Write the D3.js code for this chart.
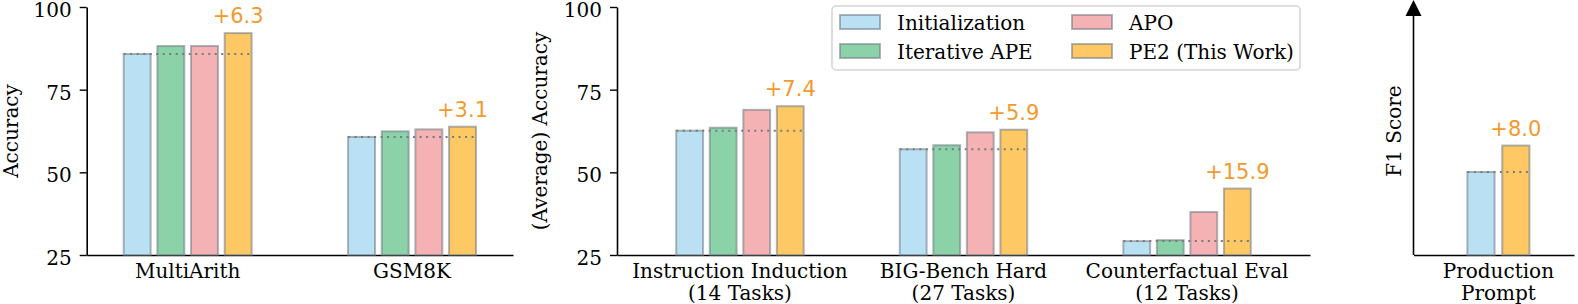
<!DOCTYPE html>
<html>
<head>
<meta charset="utf-8">
<script src="https://cdn.jsdelivr.net/npm/d3@7"></script>
<style>
  body { margin: 0; background: #fff; }
  svg { display: block; }
  text { font-family: "DejaVu Serif", serif; fill: #000; }
  .gain { font-family: "DejaVu Sans", sans-serif; fill: #f29a2e; }
</style>
</head>
<body>
<svg id="chart" width="1578" height="304"></svg>
<script>
// methods (legend order)
var methods = ["Initialization", "Iterative APE", "APO", "PE2 (This Work)"];
var colors = ["#b9e1f3", "#8bd2a8", "#f5b2b5", "#fec864"];

// panel 1: arithmetic reasoning
var mathTasks = [["MultiArith"], ["GSM8K"]];
var mathInit = [85.8, 60.7];
var mathApe = [88.2, 62.4];
var mathApo = [88.2, 63.0];
var mathPe2 = [92.1, 63.8];
var mathGain = ["+6.3", "+3.1"];

// panel 2: instruction benchmarks
var benchTasks = [["Instruction Induction", "(14 Tasks)"], ["BIG-Bench Hard", "(27 Tasks)"], ["Counterfactual Eval", "(12 Tasks)"]];
var benchInit = [62.6, 57.0, 29.2];
var benchApe = [63.5, 58.2, 29.5];
var benchApo = [68.9, 62.1, 38.0];
var benchPe2 = [70.0, 62.9, 45.1];
var benchGain = ["+7.4", "+5.9", "+15.9"];

// panel 3: production prompt (F1, only init and PE2)
var prodTasks = [["Production", "Prompt"]];
var prodInit = [50.1];
var prodPe2 = [58.1];
var prodGain = ["+8.0"];

var yTicks = [25, 50, 75, 100];

var svg = d3.select("#chart");

var y = d3.scaleLinear().domain([25, 100]).range([255, 7]);

function buildRows(tasks, series, idx) {
  return tasks.map(function (t, i) {
    return {
      pos: i,
      label: t,
      values: series.map(function (s, k) { return { m: idx[k], v: s[i] }; })
    };
  });
}

function panel(opts) {
  var x = d3.scaleLinear().domain(opts.xdomain).range(opts.xrange);
  var g = svg.append("g");
  var n = opts.rows[0].values.length;

  // x axis spine
  g.append("g")
    .attr("transform", "translate(0," + y(25) + ")")
    .call(d3.axisBottom(x).tickValues([]).tickSizeOuter(0))
    .call(function (a) { a.select(".domain").attr("stroke", "#000").attr("stroke-width", 1.6); });

  if (opts.yticks) {
    var ya = g.append("g")
      .attr("transform", "translate(" + x.range()[0] + ",0)")
      .call(d3.axisLeft(y).tickValues(yTicks).tickSize(7).tickPadding(8).tickSizeOuter(0));
    ya.select(".domain").attr("stroke", "#000").attr("stroke-width", 1.6);
    ya.selectAll(".tick line").attr("stroke", "#000").attr("stroke-width", 1.4);
    ya.selectAll(".tick text")
      .style("font-family", "DejaVu Serif")
      .style("font-size", "20px")
      .attr("fill", "#000")
      .attr("dy", "0.48em");
  } else {
    // arrow-style y axis
    var x0 = x.range()[0];
    g.append("line")
      .attr("x1", x0).attr("x2", x0)
      .attr("y1", y(25)).attr("y2", 12)
      .attr("stroke", "#000").attr("stroke-width", 1.6);
    g.append("path")
      .attr("d", "M" + x0 + ",0L" + (x0 + 8) + ",16L" + (x0 - 8) + ",16Z")
      .attr("fill", "#000");
  }

  // y label
  g.append("text")
    .attr("transform", "translate(" + opts.ylabelX + "," + 131 + ") rotate(-90)")
    .attr("text-anchor", "middle")
    .attr("dy", "0.36em")
    .style("font-size", "20px")
    .text(opts.ylabel);

  var bx = function (d, k) {
    return x(d.pos + (k - (n - 1) / 2) * opts.step);
  };
  var half = (x(opts.width) - x(0)) / 2;

  var groups = g.selectAll(".grp").data(opts.rows).enter().append("g").attr("class", "grp");

  groups.selectAll("rect")
    .data(function (d) { return d.values.map(function (v, k) { return { pos: d.pos, k: k, m: v.m, v: v.v }; }); })
    .enter().append("rect")
    .attr("x", function (d) { return bx(d, d.k) - half; })
    .attr("width", half * 2)
    .attr("y", function (d) { return y(d.v); })
    .attr("height", function (d) { return y(25) - y(d.v); })
    .attr("fill", function (d) { return colors[d.m]; })
    .attr("stroke", "rgba(110,120,130,0.55)")
    .attr("stroke-width", 2);

  // dotted baseline at init value
  groups.append("line")
    .attr("x1", function (d) { return bx(d, 0) - half; })
    .attr("x2", function (d) { return bx(d, n - 1) + half; })
    .attr("y1", function (d) { return y(d.values[0].v); })
    .attr("y2", function (d) { return y(d.values[0].v); })
    .attr("stroke", "#7a7a7a")
    .attr("stroke-width", 2)
    .attr("stroke-dasharray", "2,4.5");

  // gain annotation
  groups.append("text")
    .attr("class", "gain")
    .attr("x", function (d) { return bx(d, n - 1); })
    .attr("y", function (d) { return y(d.values[n - 1].v) - 10; })
    .attr("text-anchor", "middle")
    .style("font-size", "21px")
    .text(function (d, i) { return opts.gains[i]; });

  // category labels
  var lab = groups.append("text")
    .attr("text-anchor", "middle")
    .style("font-size", "20px");
  lab.selectAll("tspan")
    .data(function (d) { return d.label.map(function (l) { return { l: l, pos: d.pos }; }); })
    .enter().append("tspan")
    .attr("x", function (d) { return x(d.pos); })
    .attr("y", function (d, j) { return 278 + j * 22; })
    .text(function (d) { return d.l; });
}

panel({
  rows: buildRows(mathTasks, [mathInit, mathApe, mathApo, mathPe2], [0, 1, 2, 3]),
  gains: mathGain,
  xdomain: [-0.45, 1.45], xrange: [86.7, 513],
  step: 0.15, width: 0.12,
  yticks: true, ylabel: "Accuracy", ylabelX: 11
});

panel({
  rows: buildRows(benchTasks, [benchInit, benchApe, benchApo, benchPe2], [0, 1, 2, 3]),
  gains: benchGain,
  xdomain: [-0.55, 2.55], xrange: [617, 1310],
  step: 0.15, width: 0.12,
  yticks: true, ylabel: "(Average) Accuracy", ylabelX: 540
});

panel({
  rows: buildRows(prodTasks, [prodInit, prodPe2], [0, 3]),
  gains: prodGain,
  xdomain: [-0.365, 0.325], xrange: [1413.5, 1574],
  step: 0.15, width: 0.117,
  yticks: false, ylabel: "F1 Score", ylabelX: 1394
});

// legend
var leg = svg.append("g").attr("transform", "translate(832,6)");
leg.append("rect")
  .attr("width", 468).attr("height", 64)
  .attr("rx", 4)
  .attr("fill", "rgba(255,255,255,0.85)")
  .attr("stroke", "#d4d4d4").attr("stroke-width", 1.5);

var item = leg.selectAll(".item").data(methods).enter().append("g")
  .attr("class", "item")
  .attr("transform", function (d, i) {
    return "translate(" + (i < 2 ? 8 : 240) + "," + (i % 2 === 0 ? 9 : 38) + ")";
  });
item.append("rect")
  .attr("width", 40).attr("height", 14)
  .attr("fill", function (d, i) { return colors[i]; })
  .attr("stroke", "rgba(110,120,130,0.55)")
  .attr("stroke-width", 2);
item.append("text")
  .attr("x", 57).attr("y", 15)
  .style("font-size", "20px")
  .text(function (d) { return d; });
</script>
</body>
</html>
